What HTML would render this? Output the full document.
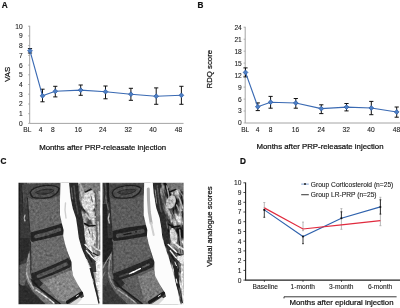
<!DOCTYPE html>
<html><head><meta charset="utf-8"><title>Figure</title>
<style>
html,body{margin:0;padding:0;background:#fff;}
svg{display:block}
text{font-family:"Liberation Sans",Arial,sans-serif;fill:#111;stroke:#111;stroke-width:0.22px}
.t{font-size:6.65px;fill:#1c1c1c;stroke:#1c1c1c;stroke-width:0.1px}
.l{font-size:7.8px}
.b{font-size:8.2px;font-weight:bold;fill:#111}
</style></head><body>
<svg width="400" height="308" viewBox="0 0 400 308">
<rect width="400" height="308" fill="#fff"/>
<defs>
<clipPath id="cl"><rect x="18.5" y="182.8" width="81.8" height="121.5"/></clipPath>
<clipPath id="cr"><rect x="102.5" y="182.8" width="81.1" height="121.5"/></clipPath>
<filter id="mf" x="0" y="0" width="400" height="308" filterUnits="userSpaceOnUse" color-interpolation-filters="sRGB">
<feGaussianBlur in="SourceGraphic" stdDeviation="0.65" result="b"/>
<feTurbulence type="fractalNoise" baseFrequency="0.42" numOctaves="3" seed="7" result="n"/>
<feColorMatrix in="n" type="matrix" values="0.34 0.33 0.33 0 0 0.34 0.33 0.33 0 0 0.34 0.33 0.33 0 0 0 0 0 0 1" result="g"/>
<feComposite in="b" in2="g" operator="arithmetic" k1="1.1" k2="0.45" k3="0" k4="0"/>
</filter>
<clipPath id="ppL"><polygon points="68,182 104,182 104,305 96,305 88,270 80,240 72,205"/></clipPath>
<filter id="pfL" x="0" y="100" width="200" height="260" filterUnits="userSpaceOnUse" color-interpolation-filters="sRGB">
<feTurbulence type="fractalNoise" baseFrequency="0.2 0.07" numOctaves="3" seed="4" result="n"/>
<feColorMatrix in="n" type="matrix" values="1.3 1.3 1.3 0 -1.3 1.3 1.3 1.3 0 -1.3 1.3 1.3 1.3 0 -1.3 0 0 0 0 1"/>
</filter>
<filter id="pfR" x="0" y="100" width="200" height="260" filterUnits="userSpaceOnUse" color-interpolation-filters="sRGB">
<feTurbulence type="fractalNoise" baseFrequency="0.22 0.07" numOctaves="3" seed="9" result="n"/>
<feColorMatrix in="n" type="matrix" values="1.5 1.5 1.5 0 -1.85 1.5 1.5 1.5 0 -1.85 1.5 1.5 1.5 0 -1.85 0 0 0 0 1"/>
</filter>
<filter id="bf" x="0" y="0" width="400" height="308" filterUnits="userSpaceOnUse" color-interpolation-filters="sRGB"><feGaussianBlur in="SourceGraphic" stdDeviation="0.6"/></filter>
</defs>
<g clip-path="url(#cl)"><g filter="url(#mf)"><g>
<rect x="10" y="178" width="100" height="131" fill="#3b3b3b"/>
<polygon points="18,182 20.6,182 20.3,305 18,305" fill="#1c1c1c" />
<polygon points="20.6,182 27,182 28.5,215 30,240 29,252 24,262 20.5,262" fill="#3a3a3a" />
<polygon points="23.5,183 27,183 27.5,204 25,208 23,196" fill="#464646" />
<polyline points="22.6,185 23,197 22.6,208" fill="none" stroke="#5e5e5e" stroke-width="1.0" stroke-linecap="round" stroke-linejoin="round" />
<polyline points="21.8,184 22.4,200 22,212" fill="none" stroke="#222" stroke-width="1.0" stroke-linecap="round" stroke-linejoin="round" />
<polyline points="25,215 24.2,218 25,221" fill="none" stroke="#b0b0b0" stroke-width="1.2" stroke-linecap="round" stroke-linejoin="round" />
<polygon points="20.5,238 29.5,238 29.5,250 26,258 20.5,262" fill="#2b2b2b" />
<polygon points="29.5,251 31,262 30,272 33,283 38,288 56,304.5 46,304.5 33,292 27,282 24.5,272 26.5,261" fill="#747474" />
<polygon points="19.5,265 26,263 26,280 24,287 19.5,284" fill="#606060" />
<polygon points="18,285 26,286 33,293 45,304.5 18,304.5" fill="#2c2c2c" />
<polyline points="29,254 27.5,262 27,270" fill="none" stroke="#989898" stroke-width="1.2" stroke-linecap="round" stroke-linejoin="round" />
<polyline points="26.5,273 29,281 33.5,288.5" fill="none" stroke="#b0b0b0" stroke-width="1.4" stroke-linecap="round" stroke-linejoin="round" />
<polyline points="36,290 42,294 49,299 54,303" fill="none" stroke="#d4d4d4" stroke-width="1.5" stroke-linecap="round" stroke-linejoin="round" />
<polygon points="27,182 62,182 60.5,205 61,215 63.5,230 65,244 70.5,262 73,275 82.5,293 68,305 60,305 37.5,286.5 31,277 30.5,255 30,235 28.5,215 27.5,195" fill="#666666" />
<polygon points="33,243 64,238 68,256 50,263 33,268" fill="#6a6a6a" />
<polygon points="43,282 71,270 81,292 66,302 58,300" fill="#878787" />
<polyline points="27.5,198 28.6,215 30,232" fill="none" stroke="#2a2a2a" stroke-width="1.0" stroke-linecap="round" stroke-linejoin="round" />
<polyline points="30.5,242 30.8,256 31,270" fill="none" stroke="#2a2a2a" stroke-width="1.0" stroke-linecap="round" stroke-linejoin="round" />
<polygon points="27,184.2 62,183 61.5,194 52,198.5 33,199.5 27.5,197" fill="#464646" />
<path d="M30.3 192.6 Q31.5 187.5 44 185.6 Q55 184.6 59.2 188.4 Q58 194.5 50 197.3 Q38 199 33 197.4 Q30.5 195.5 30.3 192.6Z" fill="#505050" stroke="#202020" stroke-width="1.35" stroke-linejoin="round"/>
<path d="M35.5 192.4 Q40 189.6 47 189.2 Q53 189.2 54 190.4 Q51 193.6 44 194.3 Q38 194.6 35.5 192.4Z" fill="#3e3e3e" stroke="#2a2a2a" stroke-width="1"/>
<polygon points="30.3,232.5 45,228.5 62,223.5 64.5,229 63.5,234.5 45,239 32,242 30.3,240" fill="#242424" />
<polyline points="36,236.6 47,233.8 59.5,229.6" fill="none" stroke="#545454" stroke-width="3.6" stroke-linecap="round" stroke-linejoin="round" />
<polygon points="30.5,279 40,280 43,283.5 38.5,288 33,286" fill="#2c2c2c" />
<polygon points="31,273.5 38,271 52,265.3 62,260.8 68,258 72,262 70.5,267 66,269.3 52,275.3 38,280.3 32,281" fill="#262626" />
<polyline points="38.5,276.2 52,270.6 66,264.2" fill="none" stroke="#565656" stroke-width="3.6" stroke-linecap="round" stroke-linejoin="round" />
<polyline points="33,281 37.6,286.6 60,303.7" fill="none" stroke="#1c1c1c" stroke-width="1.6" stroke-linecap="round" stroke-linejoin="round" />
<polygon points="68,182 104,182 104,305 96,305 88,270 80,240 72,205" fill="#8c8c8c" />
<g clip-path="url(#ppL)"><g transform="rotate(-14 86 240)"><rect x="40" y="150" width="110" height="190" fill="#fff" filter="url(#pfL)" opacity="0.75"/></g></g>
<polygon points="80,182 104,182 104,192 94,190 84,192" fill="#7a7a7a" />
<ellipse cx="89" cy="201" rx="7.5" ry="11" fill="#d6d6d6"/>
<ellipse cx="82" cy="192" rx="2.2" ry="7" transform="rotate(-12 82 192)" fill="#a4a4a4"/>
<ellipse cx="97.5" cy="206" rx="3" ry="11" fill="#7e7e7e"/>
<polyline points="95,195 96.5,205 95.5,215" fill="none" stroke="#555" stroke-width="1.2" stroke-linecap="round" stroke-linejoin="round" />
<polyline points="91,196 92.5,202" fill="none" stroke="#666" stroke-width="1.0" stroke-linecap="round" stroke-linejoin="round" />
<ellipse cx="90" cy="237" rx="5.2" ry="9.5" transform="rotate(-8 90 237)" fill="#dadada"/>
<polygon points="95.5,218 104,214 104,262 97,262 96,240" fill="#6a6a6a" />
<polyline points="98,222 98.8,236 98.3,250" fill="none" stroke="#bdbdbd" stroke-width="1.5" stroke-linecap="round" stroke-linejoin="round" />
<polyline points="86,214 90,219 95,217" fill="none" stroke="#c8c8c8" stroke-width="1.8" stroke-linecap="round" stroke-linejoin="round" />
<polyline points="84.5,223.5 89,226 95,225.5" fill="none" stroke="#161616" stroke-width="1.7" stroke-linecap="round" stroke-linejoin="round" />
<polyline points="85.5,192 91,189.3" fill="none" stroke="#1c1c1c" stroke-width="1.6" stroke-linecap="round" stroke-linejoin="round" />
<polyline points="88.5,229 90,234" fill="none" stroke="#555" stroke-width="1.0" stroke-linecap="round" stroke-linejoin="round" />
<polyline points="92,230 93,240" fill="none" stroke="#8a8a8a" stroke-width="1.0" stroke-linecap="round" stroke-linejoin="round" />
<polygon points="68.5,182 78,182 79,195 81,210 83.5,222 84.5,235 85.8,246 88.5,256 89.5,262 85.7,258 81.6,248 78.8,238 72,205" fill="#2a2a2a" />
<polyline points="74,186 75.5,200 78,214" fill="none" stroke="#4e4e4e" stroke-width="1.4" stroke-linecap="round" stroke-linejoin="round" />
<polyline points="71.5,188 72.5,199" fill="none" stroke="#6a6a6a" stroke-width="0.9" stroke-linecap="round" stroke-linejoin="round" />
<polygon points="84,248 90,250 96,262 97.5,272 93,272 88,262" fill="#383838" />
<polyline points="86.5,246.5 92,252.5 98.5,256" fill="none" stroke="#1a1a1a" stroke-width="1.4" stroke-linecap="round" stroke-linejoin="round" />
<polyline points="86.5,250.5 92,257 97,261.5" fill="none" stroke="#e6e6e6" stroke-width="1.4" stroke-linecap="round" stroke-linejoin="round" />
<polyline points="88,255 92,262" fill="none" stroke="#1c1c1c" stroke-width="1.2" stroke-linecap="round" stroke-linejoin="round" />
<polyline points="91,244 96,249 101,251" fill="none" stroke="#dcdcdc" stroke-width="1.6" stroke-linecap="round" stroke-linejoin="round" />
<polyline points="85,244.5 92.5,252" fill="none" stroke="#ececec" stroke-width="1.4" stroke-linecap="round" stroke-linejoin="round" />
<polygon points="94,257 104,254 104,263 97,263" fill="#dedede" />
<polygon points="95.5,262 104,256 104,305 99.5,305 97.5,285" fill="#f0f0f0" />

</g></g><g filter="url(#bf)"><g>

<polygon points="60.5,182 60,200 60,215 62,224 63.6,230 63.2,236 65,244 67.5,252 71.5,262 72,270 73.2,276 78,285 83,293 84,296.5 74,303 70,305 98.5,305 96,292 93,280 90,270 85.7,258 81.6,248 78.8,238 77.5,228 76,218 72.6,208 70.2,196 69,182" fill="#fcfcfc" />
<polyline points="65.5,203 65,210 66,218" fill="none" stroke="#cfcfcf" stroke-width="1.4" stroke-linecap="round" stroke-linejoin="round" />
<polyline points="67.5,302.2 74,298.2 81.5,293.2" fill="none" stroke="#1a1a1a" stroke-width="3.2" stroke-linecap="round" stroke-linejoin="round" />
<polyline points="76.3,296.4 78.4,295.1" fill="none" stroke="#ececec" stroke-width="1.0" stroke-linecap="round" stroke-linejoin="round" />
<polygon points="62,305 68,305 74,301 80,297 82,299 76,305" fill="#d8d8d8" />
<polygon points="89.5,268 92.3,268 99.6,303 98.4,303" fill="#262626" />
<polyline points="92.5,279 93.2,282" fill="none" stroke="#e8e8e8" stroke-width="0.9" stroke-linecap="round" stroke-linejoin="round" />
</g></g></g>
<g clip-path="url(#cr)"><g filter="url(#mf)"><g transform="translate(82 0)">
<rect x="10" y="178" width="100" height="131" fill="#3b3b3b"/>
<polygon points="18.0,182 24.6,182 24.6,205 26.0,262 18.0,262" fill="#484848" />
<polygon points="18.0,204 25.0,204 26.5,262 18.0,262" fill="#222222" />
<polygon points="24.4,182 28.2,182 28.6,201 25.6,203" fill="#1c1c1c" />
<polygon points="25.4,203 28.6,201 29.3,215 30.5,240 29.6,252 26.5,262" fill="#363636" />
<polyline points="22.0,184 22.8,194 21.6,203" fill="none" stroke="#262626" stroke-width="1.0" stroke-linecap="round" stroke-linejoin="round" />
<polyline points="23.6,196 24.6,203 26.6,210" fill="none" stroke="#6a6a6a" stroke-width="0.9" stroke-linecap="round" stroke-linejoin="round" />
<polyline points="27.2,214 26.3,218.5 27.3,223" fill="none" stroke="#b8b8b8" stroke-width="1.3" stroke-linecap="round" stroke-linejoin="round" />
<polygon points="18.0,238 31.5,238 31.8,250 29.0,258 18.0,262" fill="#222222" />
<polygon points="29.5,251 31.0,262 30.0,272 33.0,283 38.0,288 56.0,304.5 46.0,304.5 33.0,292 27.0,282 24.5,272 26.5,261" fill="#626262" />
<polygon points="19.5,265 26.0,263 26.0,280 24.0,287 19.5,284" fill="#4a4a4a" />
<polygon points="18.0,285 26.0,286 33.0,293 45.0,304.5 18.0,304.5" fill="#3a3a3a" />
<polyline points="29.0,254 27.5,262 27.0,270" fill="none" stroke="#989898" stroke-width="1.2" stroke-linecap="round" stroke-linejoin="round" />
<polyline points="26.5,273 29.0,281 33.5,288.5" fill="none" stroke="#8c8c8c" stroke-width="1.4" stroke-linecap="round" stroke-linejoin="round" />
<polyline points="36.0,290 42.0,294 49.0,299 54.0,303" fill="none" stroke="#a2a2a2" stroke-width="1.5" stroke-linecap="round" stroke-linejoin="round" />
<polyline points="21.0,268 24.0,262 28.5,255" fill="none" stroke="#8a8a8a" stroke-width="1.3" stroke-linecap="round" stroke-linejoin="round" />
<polyline points="19.0,280 23.0,272" fill="none" stroke="#777" stroke-width="1.3" stroke-linecap="round" stroke-linejoin="round" />
<polygon points="27.0,182 63.7,182 62.2,205 62.7,215 65.2,230 66.7,244 71.43,262 73.0,275 82.5,293 68.0,305 60.0,305 37.5,286.5 31.0,277 30.5,255 30.0,235 28.5,215 27.5,195" fill="#5c5c5c" />
<polygon points="33.0,243 65.7,238 69.39,256 50.0,263 33.0,268" fill="#606060" />
<polygon points="43.0,282 71.31,270 81.0,292 66.0,302 58.0,300" fill="#7a7a7a" />
<polygon points="43.0,282 56.0,276.5 62.0,301 58.0,300" fill="#5e5e5e" />
<polyline points="27.5,198 28.6,215 30.0,232" fill="none" stroke="#2a2a2a" stroke-width="1.0" stroke-linecap="round" stroke-linejoin="round" />
<polyline points="30.5,242 30.8,256 31.0,270" fill="none" stroke="#2a2a2a" stroke-width="1.0" stroke-linecap="round" stroke-linejoin="round" />
<polygon points="27.0,184.2 63.7,183 63.2,194 52.0,198.5 33.0,199.5 27.5,197" fill="#464646" />
<path d="M30.3 192.6 Q31.5 187.5 44 185.6 Q55 184.6 59.2 188.4 Q58 194.5 50 197.3 Q38 199 33 197.4 Q30.5 195.5 30.3 192.6Z" fill="#505050" stroke="#202020" stroke-width="1.35" stroke-linejoin="round"/>
<path d="M35.5 192.4 Q40 189.6 47 189.2 Q53 189.2 54 190.4 Q51 193.6 44 194.3 Q38 194.6 35.5 192.4Z" fill="#3e3e3e" stroke="#2a2a2a" stroke-width="1"/>
<polygon points="30.3,231 45.0,227.5 63.7,225 66.2,229.5 65.2,236 45.0,239.5 32.0,241 30.3,239" fill="#222" />
<polyline points="36.0,235.8 47.0,233.8 60.49,231.2" fill="none" stroke="#4c4c4c" stroke-width="4.2" stroke-linecap="round" stroke-linejoin="round" />
<polyline points="42.0,234.6 49.0,233.3" fill="none" stroke="#1a1a1a" stroke-width="1.4" stroke-linecap="round" stroke-linejoin="round" />
<circle cx="54" cy="231.8" r="0.9" fill="#161616"/>
<polygon points="30.5,279 40.0,280 43.0,283.5 38.5,288 33.0,286" fill="#2c2c2c" />
<polygon points="31.0,273.5 38.0,271 52.0,265.3 63.02,260.8 69.24,258 72.93,262 71.04,267 66.36,269.3 52.0,275.3 38.0,280.3 32.0,281" fill="#262626" />
<polyline points="38.0,276.6 46.0,273.8" fill="none" stroke="#484848" stroke-width="2.0" stroke-linecap="round" stroke-linejoin="round" />
<polyline points="47.5,273.6 53.03,271.2 58.31,268.6" fill="none" stroke="#f4f4f4" stroke-width="1.5" stroke-linecap="round" stroke-linejoin="round" />
<polyline points="60.51,267.4 66.74,264.4" fill="none" stroke="#5a5a5a" stroke-width="2.0" stroke-linecap="round" stroke-linejoin="round" />
<polyline points="33.0,281 37.6,286.6 60.0,303.7" fill="none" stroke="#1c1c1c" stroke-width="1.6" stroke-linecap="round" stroke-linejoin="round" />
<polygon points="69.7,182 105.7,182 104.0,305 96.0,305 88.31,270 81.7,240 73.7,205" fill="#5a5a5a" />
<g clip-path="url(#ppL)"><g transform="rotate(-14 86 240)"><rect x="40" y="150" width="110" height="190" fill="#fff" filter="url(#pfR)" opacity="0.8"/></g></g>
<polygon points="83.7,182 105.7,182 105.7,191 95.7,189.5 87.7,191" fill="#747474" />
<ellipse cx="89" cy="202" rx="4.6" ry="7" transform="rotate(20 89 202)" fill="#c2c2c2"/>
<polyline points="84.7,186 86.7,195 87.7,204" fill="none" stroke="#9a9a9a" stroke-width="1.4" stroke-linecap="round" stroke-linejoin="round" />
<polyline points="93.7,192 97.7,199 100.7,208" fill="none" stroke="#b5b5b5" stroke-width="1.4" stroke-linecap="round" stroke-linejoin="round" />
<polyline points="96.7,190 101.7,197" fill="none" stroke="#8a8a8a" stroke-width="1.2" stroke-linecap="round" stroke-linejoin="round" />
<polyline points="88.7,191.5 93.7,189.5" fill="none" stroke="#141414" stroke-width="1.6" stroke-linecap="round" stroke-linejoin="round" />
<polyline points="94.7,205 98.7,214 100.7,224" fill="none" stroke="#9c9c9c" stroke-width="1.6" stroke-linecap="round" stroke-linejoin="round" />
<polyline points="89.7,212 93.7,220" fill="none" stroke="#777" stroke-width="1.3" stroke-linecap="round" stroke-linejoin="round" />
<polyline points="100.2,212 102.7,226 103.2,240" fill="none" stroke="#2a2a2a" stroke-width="2.0" stroke-linecap="round" stroke-linejoin="round" />
<ellipse cx="91.5" cy="236" rx="3.6" ry="8" transform="rotate(-10 91.5 236)" fill="#cfcfcf"/>
<polyline points="97.7,230 98.7,242 100.05,254" fill="none" stroke="#8e8e8e" stroke-width="1.6" stroke-linecap="round" stroke-linejoin="round" />
<polyline points="86.7,224.5 91.7,227 97.7,226" fill="none" stroke="#141414" stroke-width="1.7" stroke-linecap="round" stroke-linejoin="round" />
<polyline points="88.2,216 89.7,222" fill="none" stroke="#b0b0b0" stroke-width="1.2" stroke-linecap="round" stroke-linejoin="round" />
<polygon points="70.2,182 77.7,182 78.7,195 81.2,210 84.2,222 86.2,235 88.2,246 90.89,256 91.93,262 87.74,258 84.7,248 81.7,238 73.7,205" fill="#2c2c2c" />
<polyline points="75.2,186 76.7,199 79.2,212" fill="none" stroke="#5a5a5a" stroke-width="1.3" stroke-linecap="round" stroke-linejoin="round" />
<polyline points="73.2,190 74.7,203" fill="none" stroke="#8a8a8a" stroke-width="0.9" stroke-linecap="round" stroke-linejoin="round" />
<polygon points="85.7,248 91.7,250 96.43,262 97.15,272 93.65,272 88.93,262" fill="#303030" />
<polyline points="88.2,246.5 93.66,252.5 100.35,256.5" fill="none" stroke="#141414" stroke-width="1.5" stroke-linecap="round" stroke-linejoin="round" />
<polyline points="88.2,250.5 93.31,257 98.93,262" fill="none" stroke="#e8e8e8" stroke-width="1.3" stroke-linecap="round" stroke-linejoin="round" />
<polyline points="89.47,255 93.85,263 96.31,270" fill="none" stroke="#161616" stroke-width="1.3" stroke-linecap="round" stroke-linejoin="round" />
<polyline points="92.93,262 95.46,268" fill="none" stroke="#d8d8d8" stroke-width="1.1" stroke-linecap="round" stroke-linejoin="round" />
<polyline points="86.2,244.5 94.66,252.5" fill="none" stroke="#efefef" stroke-width="1.6" stroke-linecap="round" stroke-linejoin="round" />
<polyline points="90.7,241.5 96.7,246.5 102.7,250" fill="none" stroke="#e4e4e4" stroke-width="1.8" stroke-linecap="round" stroke-linejoin="round" />
<polygon points="94.85,256.5 105.55,254 104.77,264 98.31,263.5" fill="#e2e2e2" />
<polygon points="98.77,264 105.24,258 104.0,305 100.5,305 99.5,285" fill="#e6e6e6" />
<polyline points="101.43,262 101.5,280 102.0,296" fill="none" stroke="#9a9a9a" stroke-width="1.2" stroke-linecap="round" stroke-linejoin="round" />

</g></g><g filter="url(#bf)"><g transform="translate(82 0)">

<polygon points="62.2,182 61.7,200 61.7,215 63.7,224 65.3,230 64.9,236 66.7,244 69.2,252 72.43,262 72.31,270 73.2,276 78.0,285 83.0,293 84.0,296.5 74.0,303 70.0,305 98.5,305 96.0,292 93.0,280 90.31,270 86.94,258 83.3,248 80.5,238 79.2,228 77.7,218 74.3,208 71.9,196 70.7,182" fill="#fcfcfc" />
<polyline points="66.3,189 66.5,200 67.3,212 69.1,223" fill="none" stroke="#aeaeae" stroke-width="3.0" stroke-linecap="round" stroke-linejoin="round" />
<polyline points="69.1,223 71.7,235" fill="none" stroke="#d0d0d0" stroke-width="2.0" stroke-linecap="round" stroke-linejoin="round" />
<polyline points="67.5,302.2 74.0,298.2 81.5,293.2" fill="none" stroke="#1a1a1a" stroke-width="3.2" stroke-linecap="round" stroke-linejoin="round" />
<polyline points="76.3,296.4 78.4,295.1" fill="none" stroke="#ececec" stroke-width="1.0" stroke-linecap="round" stroke-linejoin="round" />
<polygon points="62.0,305 68.0,305 74.0,301 80.0,297 82.0,299 76.0,305" fill="#d8d8d8" />
<polygon points="91.12,266 95.42,266 97.3,283 101.0,303 99.8,303 94.4,285" fill="#222222" />
<polyline points="94.2,279 95.0,283" fill="none" stroke="#eeeeee" stroke-width="1.2" stroke-linecap="round" stroke-linejoin="round" />
<polyline points="97.0,288 99.0,297" fill="none" stroke="#666" stroke-width="0.9" stroke-linecap="round" stroke-linejoin="round" />
</g></g></g>

<g id="chartA">
<path d="M29.7 25.8V123.4H183.5" stroke="#9a9a9a" stroke-width="0.9" fill="none"/>
<path d="M28.099999999999998 123.4H29.7" stroke="#9a9a9a" stroke-width="0.7"/>
<text x="22.6" y="125.8" text-anchor="end" class="t">0</text>
<path d="M28.099999999999998 113.7H29.7" stroke="#9a9a9a" stroke-width="0.7"/>
<text x="22.6" y="116.1" text-anchor="end" class="t">1</text>
<path d="M28.099999999999998 104.0H29.7" stroke="#9a9a9a" stroke-width="0.7"/>
<text x="22.6" y="106.4" text-anchor="end" class="t">2</text>
<path d="M28.099999999999998 94.2H29.7" stroke="#9a9a9a" stroke-width="0.7"/>
<text x="22.6" y="96.6" text-anchor="end" class="t">3</text>
<path d="M28.099999999999998 84.5H29.7" stroke="#9a9a9a" stroke-width="0.7"/>
<text x="22.6" y="86.9" text-anchor="end" class="t">4</text>
<path d="M28.099999999999998 74.8H29.7" stroke="#9a9a9a" stroke-width="0.7"/>
<text x="22.6" y="77.2" text-anchor="end" class="t">5</text>
<path d="M28.099999999999998 65.1H29.7" stroke="#9a9a9a" stroke-width="0.7"/>
<text x="22.6" y="67.5" text-anchor="end" class="t">6</text>
<path d="M28.099999999999998 55.4H29.7" stroke="#9a9a9a" stroke-width="0.7"/>
<text x="22.6" y="57.8" text-anchor="end" class="t">7</text>
<path d="M28.099999999999998 45.6H29.7" stroke="#9a9a9a" stroke-width="0.7"/>
<text x="22.6" y="48.0" text-anchor="end" class="t">8</text>
<path d="M28.099999999999998 35.9H29.7" stroke="#9a9a9a" stroke-width="0.7"/>
<text x="22.6" y="38.3" text-anchor="end" class="t">9</text>
<path d="M28.099999999999998 26.2H29.7" stroke="#9a9a9a" stroke-width="0.7"/>
<text x="22.6" y="28.6" text-anchor="end" class="t">10</text>
<path d="M30.0 48.6V53.0M27.9 48.6H32.1M27.9 53.0H32.1" stroke="#111" stroke-width="1.0" fill="none"/>
<path d="M42.5 89.2V101.8M40.4 89.2H44.6M40.4 101.8H44.6" stroke="#111" stroke-width="1.0" fill="none"/>
<path d="M55.3 86.3V96.9M53.2 86.3H57.4M53.2 96.9H57.4" stroke="#111" stroke-width="1.0" fill="none"/>
<path d="M80.7 85.0V95.3M78.6 85.0H82.8M78.6 95.3H82.8" stroke="#111" stroke-width="1.0" fill="none"/>
<path d="M105.5 86.0V98.8M103.4 86.0H107.6M103.4 98.8H107.6" stroke="#111" stroke-width="1.0" fill="none"/>
<path d="M130.9 88.3V100.3M128.8 88.3H133.0M128.8 100.3H133.0" stroke="#111" stroke-width="1.0" fill="none"/>
<path d="M156.2 87.9V104.3M154.1 87.9H158.3M154.1 104.3H158.3" stroke="#111" stroke-width="1.0" fill="none"/>
<path d="M181.4 86.3V104.3M179.3 86.3H183.5M179.3 104.3H183.5" stroke="#111" stroke-width="1.0" fill="none"/>
<polyline points="30.0,50.8 42.5,95.8 55.3,91.3 80.7,90.1 105.5,91.7 130.9,94.2 156.2,96.2 181.4,95.3" fill="none" stroke="#3a6ab3" stroke-width="1.15" stroke-linejoin="round"/>
<path d="M30.0 48.4L32.4 50.8L30.0 53.2L27.6 50.8Z" fill="#4d7fc6" stroke="#2b59a0" stroke-width="0.7"/>
<path d="M42.5 93.4L44.9 95.8L42.5 98.2L40.1 95.8Z" fill="#4d7fc6" stroke="#2b59a0" stroke-width="0.7"/>
<path d="M55.3 88.9L57.7 91.3L55.3 93.7L52.9 91.3Z" fill="#4d7fc6" stroke="#2b59a0" stroke-width="0.7"/>
<path d="M80.7 87.7L83.1 90.1L80.7 92.5L78.3 90.1Z" fill="#4d7fc6" stroke="#2b59a0" stroke-width="0.7"/>
<path d="M105.5 89.3L107.9 91.7L105.5 94.1L103.1 91.7Z" fill="#4d7fc6" stroke="#2b59a0" stroke-width="0.7"/>
<path d="M130.9 91.8L133.3 94.2L130.9 96.6L128.5 94.2Z" fill="#4d7fc6" stroke="#2b59a0" stroke-width="0.7"/>
<path d="M156.2 93.8L158.6 96.2L156.2 98.6L153.8 96.2Z" fill="#4d7fc6" stroke="#2b59a0" stroke-width="0.7"/>
<path d="M181.4 92.9L183.8 95.3L181.4 97.7L179.0 95.3Z" fill="#4d7fc6" stroke="#2b59a0" stroke-width="0.7"/>
<text x="27.4" y="131.9" text-anchor="middle" class="t">BL</text>
<text x="40.7" y="131.9" text-anchor="middle" class="t">4</text>
<text x="52.8" y="131.9" text-anchor="middle" class="t">8</text>
<text x="78.2" y="131.9" text-anchor="middle" class="t">16</text>
<text x="102.8" y="131.9" text-anchor="middle" class="t">24</text>
<text x="128.2" y="131.9" text-anchor="middle" class="t">32</text>
<text x="153.0" y="131.9" text-anchor="middle" class="t">40</text>
<text x="178.4" y="131.9" text-anchor="middle" class="t">48</text>
<text x="102.7" y="150.1" text-anchor="middle" class="l">Months after PRP-releasate injection</text>
<text transform="translate(10.2 74.3) rotate(-90)" text-anchor="middle" class="l">VAS</text>
<text x="1.8" y="7.6" class="b">A</text>
</g>
<g id="chartB">
<path d="M245.2 26.8V123.0H400" stroke="#9a9a9a" stroke-width="0.9" fill="none"/>
<path d="M243.6 123.0H245.2" stroke="#9a9a9a" stroke-width="0.7"/>
<text x="241.8" y="125.4" text-anchor="end" class="t">0</text>
<path d="M243.6 111.0H245.2" stroke="#9a9a9a" stroke-width="0.7"/>
<text x="241.8" y="113.4" text-anchor="end" class="t">3</text>
<path d="M243.6 99.1H245.2" stroke="#9a9a9a" stroke-width="0.7"/>
<text x="241.8" y="101.5" text-anchor="end" class="t">6</text>
<path d="M243.6 87.1H245.2" stroke="#9a9a9a" stroke-width="0.7"/>
<text x="241.8" y="89.5" text-anchor="end" class="t">9</text>
<path d="M243.6 75.1H245.2" stroke="#9a9a9a" stroke-width="0.7"/>
<text x="241.8" y="77.5" text-anchor="end" class="t">12</text>
<path d="M243.6 63.1H245.2" stroke="#9a9a9a" stroke-width="0.7"/>
<text x="241.8" y="65.5" text-anchor="end" class="t">15</text>
<path d="M243.6 51.2H245.2" stroke="#9a9a9a" stroke-width="0.7"/>
<text x="241.8" y="53.6" text-anchor="end" class="t">18</text>
<path d="M243.6 39.2H245.2" stroke="#9a9a9a" stroke-width="0.7"/>
<text x="241.8" y="41.6" text-anchor="end" class="t">21</text>
<path d="M243.6 27.2H245.2" stroke="#9a9a9a" stroke-width="0.7"/>
<text x="241.8" y="29.6" text-anchor="end" class="t">24</text>
<path d="M245.5 67.9V76.9M243.4 67.9H247.6M243.4 76.9H247.6" stroke="#111" stroke-width="1.0" fill="none"/>
<path d="M257.8 102.9V110.6M255.7 102.9H259.9M255.7 110.6H259.9" stroke="#111" stroke-width="1.0" fill="none"/>
<path d="M270.6 96.4V108.2M268.5 96.4H272.7M268.5 108.2H272.7" stroke="#111" stroke-width="1.0" fill="none"/>
<path d="M295.8 98.5V108.2M293.7 98.5H297.9M293.7 108.2H297.9" stroke="#111" stroke-width="1.0" fill="none"/>
<path d="M321.3 104.8V113.6M319.2 104.8H323.4M319.2 113.6H323.4" stroke="#111" stroke-width="1.0" fill="none"/>
<path d="M346.5 103.5V110.9M344.4 103.5H348.6M344.4 110.9H348.6" stroke="#111" stroke-width="1.0" fill="none"/>
<path d="M371.3 101.4V114.7M369.2 101.4H373.4M369.2 114.7H373.4" stroke="#111" stroke-width="1.0" fill="none"/>
<path d="M396.7 107.0V117.2M394.6 107.0H398.8M394.6 117.2H398.8" stroke="#111" stroke-width="1.0" fill="none"/>
<polyline points="245.5,72.4 257.8,106.8 270.6,102.2 295.8,103.0 321.3,108.6 346.5,107.1 371.3,108.0 396.7,112.0" fill="none" stroke="#3a6ab3" stroke-width="1.15" stroke-linejoin="round"/>
<path d="M245.5 70.0L247.9 72.4L245.5 74.8L243.1 72.4Z" fill="#4d7fc6" stroke="#2b59a0" stroke-width="0.7"/>
<path d="M257.8 104.4L260.2 106.8L257.8 109.2L255.4 106.8Z" fill="#4d7fc6" stroke="#2b59a0" stroke-width="0.7"/>
<path d="M270.6 99.8L273.0 102.2L270.6 104.6L268.2 102.2Z" fill="#4d7fc6" stroke="#2b59a0" stroke-width="0.7"/>
<path d="M295.8 100.6L298.2 103.0L295.8 105.4L293.4 103.0Z" fill="#4d7fc6" stroke="#2b59a0" stroke-width="0.7"/>
<path d="M321.3 106.2L323.7 108.6L321.3 111.0L318.9 108.6Z" fill="#4d7fc6" stroke="#2b59a0" stroke-width="0.7"/>
<path d="M346.5 104.7L348.9 107.1L346.5 109.5L344.1 107.1Z" fill="#4d7fc6" stroke="#2b59a0" stroke-width="0.7"/>
<path d="M371.3 105.6L373.7 108.0L371.3 110.4L368.9 108.0Z" fill="#4d7fc6" stroke="#2b59a0" stroke-width="0.7"/>
<path d="M396.7 109.6L399.1 112.0L396.7 114.4L394.3 112.0Z" fill="#4d7fc6" stroke="#2b59a0" stroke-width="0.7"/>
<text x="245.2" y="132.0" text-anchor="middle" class="t">BL</text>
<text x="257.6" y="132.0" text-anchor="middle" class="t">4</text>
<text x="270.5" y="132.0" text-anchor="middle" class="t">8</text>
<text x="295.4" y="132.0" text-anchor="middle" class="t">16</text>
<text x="321.3" y="132.0" text-anchor="middle" class="t">24</text>
<text x="346.2" y="132.0" text-anchor="middle" class="t">32</text>
<text x="370.9" y="132.0" text-anchor="middle" class="t">40</text>
<text x="396.4" y="132.0" text-anchor="middle" class="t">48</text>
<text x="320" y="149.4" text-anchor="middle" class="l">Months after PRP-releasate injection</text>
<text transform="translate(212.0 69.2) rotate(-90)" text-anchor="middle" class="l">RDQ score</text>
<text x="197.6" y="7.6" class="b">B</text>
</g>
<g id="chartD">
<path d="M245.6 182.4V280.1H400" stroke="#222" stroke-width="1.1" fill="none"/>
<path d="M243.4 280.1H245.6" stroke="#222" stroke-width="0.8"/>
<text x="241.4" y="282.5" text-anchor="end" class="t">0</text>
<path d="M243.4 270.4H245.6" stroke="#222" stroke-width="0.8"/>
<text x="241.4" y="272.8" text-anchor="end" class="t">1</text>
<path d="M243.4 260.6H245.6" stroke="#222" stroke-width="0.8"/>
<text x="241.4" y="263.0" text-anchor="end" class="t">2</text>
<path d="M243.4 250.9H245.6" stroke="#222" stroke-width="0.8"/>
<text x="241.4" y="253.3" text-anchor="end" class="t">3</text>
<path d="M243.4 241.2H245.6" stroke="#222" stroke-width="0.8"/>
<text x="241.4" y="243.6" text-anchor="end" class="t">4</text>
<path d="M243.4 231.5H245.6" stroke="#222" stroke-width="0.8"/>
<text x="241.4" y="233.9" text-anchor="end" class="t">5</text>
<path d="M243.4 221.7H245.6" stroke="#222" stroke-width="0.8"/>
<text x="241.4" y="224.1" text-anchor="end" class="t">6</text>
<path d="M243.4 212.0H245.6" stroke="#222" stroke-width="0.8"/>
<text x="241.4" y="214.4" text-anchor="end" class="t">7</text>
<path d="M243.4 202.3H245.6" stroke="#222" stroke-width="0.8"/>
<text x="241.4" y="204.7" text-anchor="end" class="t">8</text>
<path d="M243.4 192.5H245.6" stroke="#222" stroke-width="0.8"/>
<text x="241.4" y="194.9" text-anchor="end" class="t">9</text>
<path d="M243.4 182.8H245.6" stroke="#222" stroke-width="0.8"/>
<text x="241.4" y="185.2" text-anchor="end" class="t">10</text>
<path d="M264.4 280.1v1.8" stroke="#222" stroke-width="0.8"/>
<path d="M303.0 280.1v1.8" stroke="#222" stroke-width="0.8"/>
<path d="M341.5 280.1v1.8" stroke="#222" stroke-width="0.8"/>
<path d="M380.5 280.1v1.8" stroke="#222" stroke-width="0.8"/>
<path d="M264.3 202.5V208.0M263.3 202.5H265.3M263.3 208.0H265.3" stroke="#a8a8a8" stroke-width="0.8" fill="none"/>
<path d="M303.0 222.1V230.7M302.0 222.1H304.0M302.0 230.7H304.0" stroke="#a8a8a8" stroke-width="0.8" fill="none"/>
<path d="M341.4 208.6V229.3M340.4 208.6H342.4M340.4 229.3H342.4" stroke="#a8a8a8" stroke-width="0.8" fill="none"/>
<path d="M380.4 197.3V225.7M379.4 197.3H381.4M379.4 225.7H381.4" stroke="#a8a8a8" stroke-width="0.8" fill="none"/>
<path d="M264.3 209.6V217.3M263.4 209.6H265.2M263.4 217.3H265.2" stroke="#1a1a1a" stroke-width="0.85" fill="none"/>
<path d="M303.0 236.4V243.7M302.1 236.4H303.9M302.1 243.7H303.9" stroke="#1a1a1a" stroke-width="0.85" fill="none"/>
<path d="M341.4 211.8V218.2M340.5 211.8H342.3M340.5 218.2H342.3" stroke="#1a1a1a" stroke-width="0.85" fill="none"/>
<path d="M380.4 199.8V214.1M379.5 199.8H381.3M379.5 214.1H381.3" stroke="#1a1a1a" stroke-width="0.85" fill="none"/>
<polyline points="264.3,209.9 303.0,236.5 341.4,218.3 380.4,206.9" fill="none" stroke="#2f62ad" stroke-width="1.1"/>
<polyline points="264.3,207.9 303.0,229.0 341.4,224.8 380.4,220.7" fill="none" stroke="#e02a3e" stroke-width="1.2"/>
<circle cx="264.3" cy="209.9" r="1.0" fill="#111"/>
<circle cx="303.0" cy="236.5" r="1.0" fill="#111"/>
<circle cx="341.4" cy="218.3" r="1.0" fill="#111"/>
<circle cx="380.4" cy="206.9" r="1.0" fill="#111"/>
<text x="265.3" y="289.3" text-anchor="middle" class="t">Baseline</text>
<text x="302.8" y="289.3" text-anchor="middle" class="t">1-month</text>
<text x="341.3" y="289.3" text-anchor="middle" class="t">3-month</text>
<text x="380.1" y="289.3" text-anchor="middle" class="t">6-month</text>
<path d="M284 298.4V296.8H396.6" stroke="#222" stroke-width="0.9" fill="none"/>
<text x="341.5" y="305.4" text-anchor="middle" class="l">Months after epidural injection</text>
<text transform="translate(212.2 226.6) rotate(-90)" text-anchor="middle" class="l">Visual analogue scores</text>
<text x="240.0" y="164.3" class="b">D</text>
<path d="M301.2 184.1H308.8" stroke="#7f9fd0" stroke-width="1"/><circle cx="305" cy="184.1" r="1" fill="#222"/>
<path d="M301.2 194.7H308.8" stroke="#444" stroke-width="1.1"/>
<text x="310.8" y="186.5" class="t">Group Corticosteroid (n=25)</text>
<text x="310.8" y="197.0" class="t">Group LR-PRP (n=25)</text>
</g>
<text x="0.4" y="163.8" class="b">C</text>
</svg>
</body></html>
